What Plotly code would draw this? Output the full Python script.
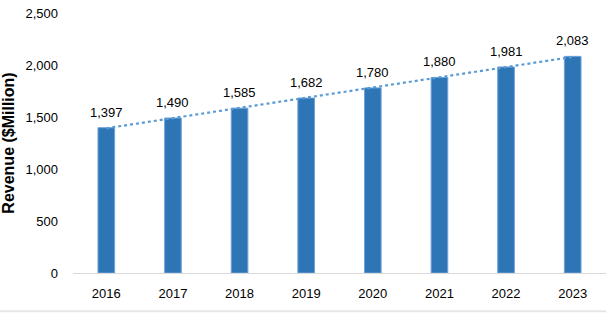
import numpy as np
import plotly.graph_objects as go

years = ["2016", "2017", "2018", "2019", "2020", "2021", "2022", "2023"]
revenue = [1397, 1490, 1585, 1682, 1780, 1880, 1981, 2083]
y_ticks = [0, 500, 1000, 1500, 2000, 2500]
y_tick_text = ["0", "500", "1,000", "1,500", "2,000", "2,500"]

idx = np.arange(len(years))
slope, intercept = np.polyfit(idx, revenue, 1)
trend = slope * idx + intercept

font = "Liberation Sans, Arial, sans-serif"

fig = go.Figure()
fig.add_trace(go.Bar(
    x=years, y=revenue,
    marker=dict(color="#2E75B6", line=dict(color="#6FA3D8", width=1)),
    width=0.25, hoverinfo="skip",
))
fig.add_trace(go.Scatter(
    x=years, y=trend, mode="lines",
    line=dict(color="#5B9BD5", width=2.2, dash="dot"),
    hoverinfo="skip",
))
# on a category axis annotations are placed by category serial number
annotations = [
    dict(x=i, y=v, xref="x", yref="y", text=f"{v:,}", showarrow=False, yanchor="bottom",
         yshift=6, font=dict(size=13, color="#000000", family=font))
    for i, v in enumerate(revenue)
]
fig.update_layout(
    width=606, height=328,
    margin=dict(l=73, r=0, t=13, b=55),
    plot_bgcolor="white", paper_bgcolor="white",
    showlegend=False,
    font=dict(family=font, size=13, color="#000000"),
    xaxis=dict(type="category", showgrid=False, showline=True, linecolor="#d9d9d9", linewidth=1,
               ticks="", tickfont=dict(size=13), ticklabelstandoff=8),
    yaxis=dict(range=[0, 2500], tickvals=y_ticks, ticktext=y_tick_text,
               showgrid=False, zeroline=False, showline=False, ticks="",
               tickfont=dict(size=13), ticklabelstandoff=14,
               title=dict(text="<b>Revenue ($Million)</b>", font=dict(size=16), standoff=6)),
    annotations=annotations,
    shapes=[dict(type="line", xref="paper", yref="paper", x0=-0.14, x1=1.0, y0=-0.147, y1=-0.147,
                 line=dict(color="#e6e6e6", width=2))],
)
fig.write_html("out.html")
